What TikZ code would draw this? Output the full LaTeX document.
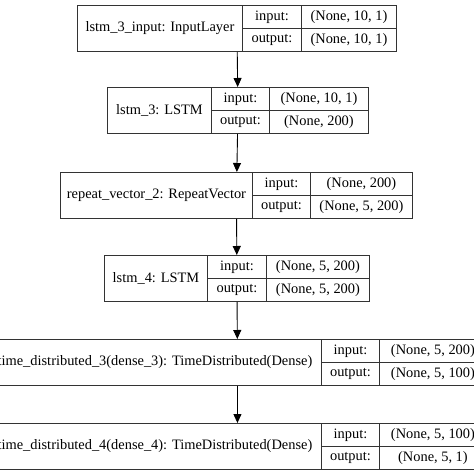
\documentclass[tikz,border=0pt]{standalone}
\usepackage{fontspec}
\setmainfont{Liberation Serif}
\usetikzlibrary{arrows.meta}
\tikzset{
  cell/.style={draw=black!80, line width=0.9pt, inner sep=0pt, anchor=north west,
    font=\fontsize{14.4}{16}\selectfont, text=black},
  frame/.style={cell, minimum height=46pt},
  half/.style={cell, minimum height=23pt},
  flow/.style={draw=black, line width=0.9pt, -{Triangle[width=8pt,length=9pt]}},
}
% #1 name, #2 top, #3 left, #4 divider 1, #5 divider 2, #6 right, #7 label, #8 input, #9 output
\newcommand\kerasLayer[9]{%
  \node[frame, minimum width={(#6-(#3))*1pt}] (#1) at ({#3*1pt},{-#2*1pt}) {};
  \node[frame, minimum width={(#4-(#3))*1pt}] (#1-name) at ({#3*1pt},{-#2*1pt}) {#7};
  \node[half, minimum width={(#5-#4)*1pt}] (#1-ik) at ({#4*1pt},{-#2*1pt}) {input:};
  \node[half, minimum width={(#6-#5)*1pt}] (#1-iv) at ({#5*1pt},{-#2*1pt}) {#8};
  \node[half, minimum width={(#5-#4)*1pt}] (#1-ok) at ({#4*1pt},{-(#2+23)*1pt}) {output:};
  \node[half, minimum width={(#6-#5)*1pt}] (#1-ov) at ({#5*1pt},{-(#2+23)*1pt}) {#9};
}
\begin{document}
\begin{tikzpicture}
\useasboundingbox (0pt,0pt) rectangle (474pt,-474pt);
\clip (0pt,0pt) rectangle (474pt,-474pt);
\kerasLayer{L1}{5}{77}{242}{301}{396}{lstm\_3\_input: InputLayer}{(None, 10, 1)}{(None, 10, 1)}
\kerasLayer{L2}{87}{107}{211}{269}{368}{lstm\_3: LSTM}{(None, 10, 1)}{(None, 200)}
\kerasLayer{L3}{172}{60}{252}{310}{412}{repeat\_vector\_2: RepeatVector}{(None, 200)}{(None, 5, 200)}
\kerasLayer{L4}{255}{104}{207}{266}{369}{lstm\_4: LSTM}{(None, 5, 200)}{(None, 5, 200)}
\kerasLayer{L5}{339}{-12}{321}{379}{486}{time\_distributed\_3(dense\_3): TimeDistributed(Dense)}{(None, 5, 200)}{(None, 5, 100)}
\kerasLayer{L6}{423}{-12}{321}{379}{486}{time\_distributed\_4(dense\_4): TimeDistributed(Dense)}{(None, 5, 100)}{(None, 5, 1)}
\draw[flow] (L1) -- (L2);
\draw[flow] (L2) -- (L3);
\draw[flow] (L3) -- (L4);
\draw[flow] (L4) -- (L5);
\draw[flow] (L5) -- (L6);
\end{tikzpicture}
\end{document}
